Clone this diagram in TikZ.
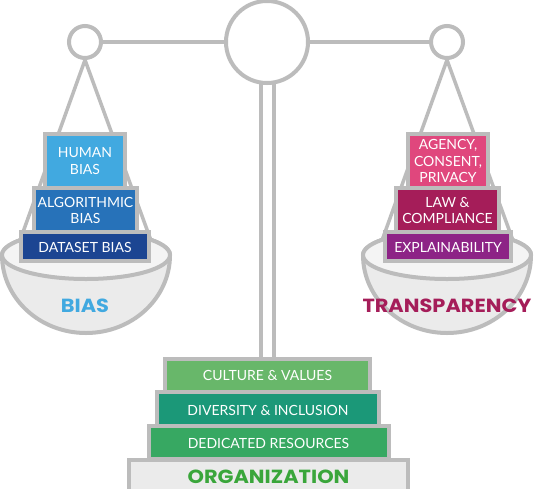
\documentclass[tikz,border=0pt]{standalone}
\usepackage{fontspec}
\setmainfont{Lato}
\newfontfamily\titlefont{Poppins}[FakeStretch=1.1]
\definecolor{lgray}{HTML}{BCBCBC}
\definecolor{bowlfill}{HTML}{EBEBEB}
\definecolor{rimfill}{HTML}{F4F4F4}
\definecolor{chuman}{HTML}{41A9E0}
\definecolor{calgo}{HTML}{2772B9}
\definecolor{cdata}{HTML}{1C4592}
\definecolor{cagency}{HTML}{E0477D}
\definecolor{claw}{HTML}{A51D59}
\definecolor{cexpl}{HTML}{8D2386}
\definecolor{cculture}{HTML}{68B76A}
\definecolor{cdiv}{HTML}{1B9878}
\definecolor{cded}{HTML}{37A862}
\definecolor{corg}{HTML}{3AA63B}
\begin{document}
\begin{tikzpicture}[x=1pt,y=-1pt,
  frame/.style={draw=lgray,line width=4pt},
  thin/.style={draw=lgray,line width=3.5pt},
  tier/.style={draw=lgray,line width=3.5pt},
  lbl/.style={text=white,font=\fontsize{14}{16.5}\selectfont,align=center,inner sep=0pt},
  title/.style={font=\titlefont\bfseries\fontsize{19}{20}\selectfont,inner sep=0pt}]
\useasboundingbox[fill=white] (0,0) rectangle (537,488);
% beam and pole
\draw[frame] (85,42) -- (447,42);
\draw[frame,fill=white] (261,78) rectangle (274,360);
\node[circle,frame,fill=white,minimum size=82pt,inner sep=0pt] (pivot) at (267,42) {};
\node[circle,frame,fill=white,minimum size=32pt,inner sep=0pt] (lhook) at (85,42) {};
\node[circle,frame,fill=white,minimum size=32pt,inner sep=0pt] (rhook) at (447,42) {};
% hanging strings
\coordinate (la) at (18,246); \coordinate (lb) at (153,246);
\coordinate (ra) at (380,246); \coordinate (rb) at (515,246);
\draw[thin] (lhook.south) -- (la);
\draw[thin] (lhook.south) -- (lb);
\draw[thin] (rhook.south) -- (ra);
\draw[thin] (rhook.south) -- (rb);
% bowls
\foreach \cx in {86,447}{
  \draw[frame,fill=bowlfill] (\cx-84,255) arc[start angle=180,end angle=0,x radius=84,y radius=78]
     arc[start angle=0,end angle=-180,x radius=84,y radius=24] -- cycle;
  \draw[frame,fill=rimfill] (\cx,255) ellipse[x radius=84,y radius=24];
}
% left stack
\draw[tier,fill=chuman] (45,134) rectangle (125,188);
\node[lbl] (human) at (85,161) {HUMAN\\BIAS};
\draw[tier,fill=calgo] (34,188) rectangle (137,232);
\node[lbl] (algo) at (85.5,210.5) {ALGORITHMIC\\BIAS};
\draw[tier,fill=cdata] (21,232) rectangle (149,261);
\node[lbl] (data) at (85,247) {DATASET BIAS};
\node[title,text=chuman] (bias) at (85,306) {BIAS};
% right stack
\draw[tier,fill=cagency] (408,134) rectangle (488,188);
\node[lbl] (agency) at (448,161) {AGENCY,\\CONSENT,\\PRIVACY};
\draw[tier,fill=claw] (396,188) rectangle (499,232);
\node[lbl] (law) at (447.5,210.5) {LAW \&\\COMPLIANCE};
\draw[tier,fill=cexpl] (385,232) rectangle (511,261);
\node[lbl] (expl) at (448,247) {EXPLAINABILITY};
\node[title,text=claw] (transp) at (447,306) {TRANSPARENCY};
% base stack
\draw[tier,fill=cculture] (165,359) rectangle (370,392);
\node[lbl] (culture) at (267.5,375) {CULTURE \& VALUES};
\draw[tier,fill=cdiv] (157,392) rectangle (379,426);
\node[lbl] (div) at (268,410) {DIVERSITY \& INCLUSION};
\draw[tier,fill=cded] (149,426) rectangle (389,459);
\node[lbl] (ded) at (268.5,443.5) {DEDICATED RESOURCES};
\draw[tier,fill=bowlfill] (129,460) rectangle (408,495);
\node[title,text=corg] (org) at (268.5,477) {ORGANIZATION};
\end{tikzpicture}
\end{document}
